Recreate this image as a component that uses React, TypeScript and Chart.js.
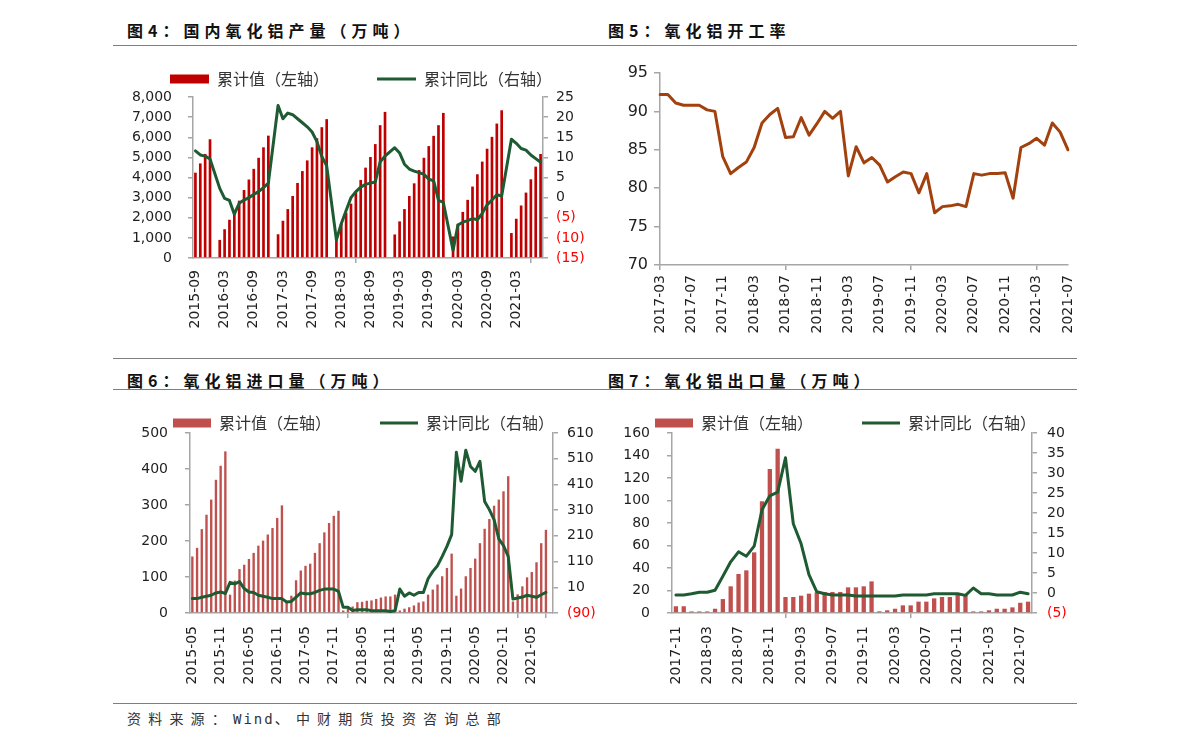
import React, { useEffect, useRef } from 'react';
import { Chart, registerables } from 'chart.js';

Chart.register(...registerables);

// ---------- helpers for month category labels ----------
const monthLabels = (startYear: number, startMonth: number, count: number): string[] => {
  const out: string[] = [];
  for (let i = 0; i < count; i++) {
    const m = startMonth - 1 + i;
    const y = startYear + Math.floor(m / 12);
    const mm = (m % 12) + 1;
    out.push(`${y}-${String(mm).padStart(2, '0')}`);
  }
  return out;
};

// ---------- 图4 国内氧化铝产量（万吨） ----------
const prodMonths = monthLabels(2015, 9, 72);
const prodCum: (number | null)[] = [
  4240, 4700, 5170, 5900,
  null, 900, 1430, 1900, 2350, 2850, 3380, 3900, 4430, 4980, 5500, 6080,
  null, 1180, 1850, 2430, 3080, 3730, 4320, 4850, 5500, 5950, 6500, 6900,
  null, 1100, 1700, 2250, 2700, 3300, 3880, 4490, 5020, 5660, 6600, 7260,
  null, 1170, 1820, 2430, 3080, 3710, 4370, 4980, 5560, 6070, 6600, 7210,
  null, 1070, 1700, 2290, 2890, 3550, 4160, 4790, 5430, 6020, 6680, 7340,
  null, 1240, 1950, 2610, 3250, 3910, 4540, 5170,
];
const prodYoY: (number | null)[] = [
  11.6, 10.6, 10.3, 9.6,
  null, 2.3, -0.2, -0.7, -4.1, -1.4, -0.6, 0.0, 0.8, 1.5, 2.5, 3.6,
  null, 22.9, 19.6, 21.0, 20.6, 19.6, 18.6, 17.6, 16.3, 13.9, 10.2, 7.9,
  null, -10.5, -6.5, -3.2, 0.0, 1.5, 2.6, 3.3, 3.6, 3.9, 8.9, 10.3,
  null, 12.4, 11.1, 8.3, 7.1, 6.6, 6.2, 5.8, 4.6, 4.2, -0.7, -1.2,
  null, -13.1, -6.8, -6.1, -5.7, -5.2, -5.5, -3.9, -1.8, -0.6, 0.7, 0.4,
  null, 14.5, 13.5, 12.2, 11.8, 10.6, 9.7, 8.8,
];

// ---------- 图5 氧化铝开工率 ----------
const rateMonths = monthLabels(2017, 3, 53);
const rateValues: number[] = [
  92.2, 92.2, 91.1, 90.8, 90.8, 90.8, 90.2, 90.0, 84.1, 81.9,
  82.7, 83.4, 85.3, 88.5, 89.6, 90.4, 86.6, 86.7, 89.2, 86.9,
  88.4, 90.0, 89.1, 90.0, 81.6, 85.4, 83.3, 84.0, 83.0, 80.8,
  81.5, 82.1, 81.9, 79.4, 81.9, 76.8, 77.6, 77.7, 77.9, 77.6,
  81.9, 81.7, 81.9, 81.9, 82.0, 78.7, 85.3, 85.8, 86.5, 85.6,
  88.5, 87.3, 85.0,
];

// ---------- 图6 氧化铝进口量（万吨） ----------
const importMonths = monthLabels(2015, 5, 77);
const importCum: (number | null)[] = [
  157, 181, 233, 273, 315, 370, 409, 449,
  51, 90, 122, 134, 150, 167, 187, 201, 218, 236, 264, 299,
  30, 48, 91, 118, 131, 137, 167, 194, 224, 250, 270, 284,
  7, 14, 18, 30, 31, 34, 35, 39, 43, 46, 46, 51,
  7, 12, 16, 21, 29, 32, 51, 65, 79, 102, 125, 165,
  48, 68, 102, 125, 151, 194, 234, 261, 298, 315, 338, 380,
  32, 52, 74, 99, 114, 141, 194, 231, null,
];
const importYoY: (number | null)[] = [
  -34, -34, -29, -25, -21, -12, -8, -14,
  29, 23, 32, 5, -8, -10, -21, -25, -29, -34, -34, -34,
  -47, -45, -28, -12, -15, -15, -10, -2, 3, 3, 3, -6,
  -68, -68, -80, -77, -77, -77, -81, -81, -81, -81, -84, -81,
  3, -25, -12, -21, -10, -10, 43, 72, 94, 130, 169, 215,
  535, 422, 543, 480, 461, 500, 344, 312, 273, 198, 172, 130,
  -36, -32, -28, -21, -25, -29, -19, -10, null,
];

// ---------- 图7 氧化铝出口量（万吨） ----------
const exportMonths = monthLabels(2017, 11, 46);
const exportCum: number[] = [
  6, 6, 1.4, 1.4, 1.4, 3.8, 12.4, 23.7, 34.7, 37.9,
  53.9, 99.3, 128, 146, 14.2, 14.2, 15.4, 17.2, 18.4, 18.7,
  18.7, 18.7, 22.8, 22.8, 23.7, 28.1, 1.5, 2.4, 3.8, 6.8,
  6.8, 10.1, 10.1, 13, 14.2, 14.2, 16.3, 16.3, 1.4, 1.4,
  2.4, 3.8, 3.8, 5, 9.1, 10.1,
];
const exportYoY: number[] = [
  -0.5, -0.5, -0.2, 0.2, 0.2, 0.7, 4.2, 7.8, 10.3, 9.2,
  11.7, 20.8, 24.3, 25.2, 33.8, 17.3, 12.3, 4.6, 0.3, -0.2,
  -0.5, -0.5, -0.5, -0.75, -0.75, -0.75, -0.75, -0.75, -0.75, -0.5,
  -0.5, -0.5, -0.5, -0.2, -0.2, -0.2, -0.2, -0.6, 1.25, -0.2,
  -0.2, -0.5, -0.5, -0.5, 0.2, -0.2,
];

// ---------- shared styling ----------
const AXIS = '#A6A6A6';
const TICK_TEXT = '#1f1f1f';
const NEG = '#FF0000';
const GREEN = '#1E5B32';
const DARK_RED = '#C00000';
const SOFT_RED = '#C0504D';
const BROWN = '#A3410E';
const NUM_FAMILY = "'DejaVu Sans', 'Noto Sans CJK SC', sans-serif";
const CJK_FAMILY = "'Noto Sans CJK SC', sans-serif";
const TICK_FONT = { family: NUM_FAMILY, size: 14 };
const LEGEND_FONT = { family: CJK_FAMILY, size: 16 };
const CLEAR = 'rgba(0,0,0,0)';

const commaFmt = (v: any) => Number(v).toLocaleString('en-US');
const parenFmt = (v: any) => (Number(v) < 0 ? `(${Math.abs(Number(v))})` : `${v}`);
const plainFmt = (v: any) => `${v}`;

function xAxis(every: number, height: number, offset: boolean, padding: number) {
  return {
    type: 'category',
    offset,
    grid: {
      display: true,
      drawOnChartArea: false,
      drawTicks: true,
      tickLength: 5,
      offset,
      lineWidth: 1.5,
      color: (c: any) => (c.index === undefined || c.index % every === 0 ? AXIS : CLEAR),
    },
    border: { display: true, color: AXIS, width: 1.5 },
    ticks: {
      autoSkip: false,
      minRotation: 90,
      maxRotation: 90,
      padding,
      color: TICK_TEXT,
      font: TICK_FONT,
      callback: function (this: any, v: any, i: number) {
        return i % every === 0 ? this.getLabelForValue(v) : null;
      },
    },
    afterFit: (s: any) => {
      s.height = height;
    },
  };
}

function yAxis(
  position: 'left' | 'right',
  min: number,
  max: number,
  step: number,
  width: number,
  padding: number,
  fmt: (v: any) => string,
  opts: { redNegative?: boolean; fontSize?: number; tickLength?: number } = {}
) {
  return {
    type: 'linear',
    position,
    min,
    max,
    grid: {
      display: true,
      drawOnChartArea: false,
      drawTicks: true,
      tickLength: opts.tickLength ?? 5,
      color: AXIS,
      lineWidth: 1.5,
    },
    border: { display: true, color: AXIS, width: 1.5 },
    ticks: {
      stepSize: step,
      padding,
      font: { family: NUM_FAMILY, size: opts.fontSize ?? 14 },
      color: opts.redNegative
        ? (c: any) => (c.tick && c.tick.value < 0 ? NEG : TICK_TEXT)
        : TICK_TEXT,
      callback: fmt,
    },
    afterFit: (s: any) => {
      s.width = width;
    },
  };
}

function legendOpts(padding: number, boxWidth: number, maxHeight?: number) {
  return {
    display: true,
    position: 'top',
    ...(maxHeight ? { maxHeight } : {}),
    labels: {
      usePointStyle: true,
      pointStyleWidth: boxWidth,
      boxHeight: 9,
      padding,
      font: LEGEND_FONT,
      color: '#333',
      sort: (a: any, b: any) => a.datasetIndex - b.datasetIndex,
    },
  };
}

function comboConfig(p: {
  labels: string[];
  bars: (number | null)[];
  line: (number | null)[];
  barColor: string;
  barPct: number;
  left: any;
  right: any;
  x: any;
  legend: any;
}) {
  return {
    type: 'bar',
    data: {
      labels: p.labels,
      datasets: [
        {
          type: 'bar',
          label: '累计值（左轴）',
          data: p.bars,
          backgroundColor: p.barColor,
          borderWidth: 0,
          barPercentage: p.barPct,
          categoryPercentage: 1,
          yAxisID: 'y',
          order: 1,
          pointStyle: 'rect',
        },
        {
          type: 'line',
          label: '累计同比（右轴）',
          data: p.line,
          borderColor: GREEN,
          backgroundColor: GREEN,
          borderWidth: 3,
          pointRadius: 0,
          spanGaps: true,
          tension: 0,
          borderJoinStyle: 'round',
          borderCapStyle: 'round',
          yAxisID: 'y1',
          order: 0,
          pointStyle: 'line',
        },
      ],
    },
    options: {
      responsive: false,
      animation: false,
      devicePixelRatio: 1,
      events: [],
      layout: { padding: 0 },
      plugins: { legend: p.legend, tooltip: { enabled: false } },
      scales: { x: p.x, y: p.left, y1: p.right },
    },
  };
}

const productionConfig = () =>
  comboConfig({
    labels: prodMonths,
    bars: prodCum,
    line: prodYoY,
    barColor: DARK_RED,
    barPct: 0.55,
    x: xAxis(6, 82, true, 7),
    left: yAxis('left', 0, 8000, 1000, 78, 16, commaFmt),
    right: yAxis('right', -15, 25, 5, 64, 8, parenFmt, { redNegative: true }),
    legend: legendOpts(48, 39),
  });

const importConfig = () =>
  comboConfig({
    labels: importMonths,
    bars: importCum,
    line: importYoY,
    barColor: SOFT_RED,
    barPct: 0.5,
    x: xAxis(6, 82, true, 8),
    left: yAxis('left', 0, 500, 100, 72, 17, plainFmt),
    right: yAxis('right', -90, 610, 100, 56, 9, parenFmt, { redNegative: true }),
    legend: legendOpts(49, 38, 67),
  });

const exportConfig = () =>
  comboConfig({
    labels: exportMonths,
    bars: exportCum,
    line: exportYoY,
    barColor: SOFT_RED,
    barPct: 0.55,
    x: xAxis(4, 82, true, 8),
    left: yAxis('left', 0, 160, 20, 72, 17, plainFmt),
    right: yAxis('right', -5, 40, 5, 59, 10, parenFmt, { redNegative: true }),
    legend: legendOpts(49, 38, 67),
  });

const rateConfig = () => ({
  type: 'line',
  data: {
    labels: rateMonths,
    datasets: [
      {
        label: '开工率',
        data: rateValues,
        borderColor: BROWN,
        backgroundColor: BROWN,
        borderWidth: 3,
        pointRadius: 0,
        tension: 0,
        borderJoinStyle: 'round',
        borderCapStyle: 'round',
      },
    ],
  },
  options: {
    responsive: false,
    animation: false,
    devicePixelRatio: 1,
    events: [],
    layout: { padding: { top: 23, right: 22, left: 0, bottom: 0 } },
    plugins: { legend: { display: false }, tooltip: { enabled: false } },
    scales: {
      x: xAxis(4, 80, false, 5),
      y: yAxis('left', 70, 95, 5, 60, 6, plainFmt, { fontSize: 16, tickLength: 6 }),
    },
  },
});

// ---------- components ----------
type BoxProps = { left: number; top: number; width: number; height: number; make: () => any };

function ChartBox({ left, top, width, height, make }: BoxProps) {
  const ref = useRef<HTMLCanvasElement>(null);
  useEffect(() => {
    const chart = new Chart(ref.current as HTMLCanvasElement, make());
    return () => chart.destroy();
  }, []);
  return (
    <canvas
      ref={ref}
      width={width}
      height={height}
      style={{ position: 'absolute', left, top, width, height }}
    />
  );
}

const titleStyle = (left: number, top: number): React.CSSProperties => ({
  position: 'absolute',
  left,
  top,
  fontFamily: CJK_FAMILY,
  fontWeight: 700,
  fontSize: 16,
  lineHeight: '20px',
  letterSpacing: '5px',
  color: '#111',
  whiteSpace: 'nowrap',
});

const rule = (top: number): React.CSSProperties => ({
  position: 'absolute',
  left: 113,
  top,
  width: 964,
  height: 0,
  borderTop: '1.5px solid #7f7f7f',
});

export default function App() {
  return (
    <div
      style={{
        position: 'absolute',
        left: 0,
        top: 0,
        width: 1191,
        height: 752,
        background: '#fff',
        overflow: 'hidden',
      }}
    >
      <div style={titleStyle(127, 20)}>图4：国内氧化铝产量（万吨）</div>
      <div style={titleStyle(608, 20)}>图5：氧化铝开工率</div>
      <div style={rule(45)} />

      <div style={rule(358)} />
      <div style={titleStyle(127, 370)}>图6：氧化铝进口量（万吨）</div>
      <div style={titleStyle(608, 370)}>图7：氧化铝出口量（万吨）</div>
      <div style={rule(389)} />

      <ChartBox left={115} top={23} width={492} height={317} make={productionConfig} />
      <ChartBox left={600} top={50} width={490} height={295} make={rateConfig} />
      <ChartBox left={118} top={366} width={491} height={329} make={importConfig} />
      <ChartBox left={600} top={366} width={491} height={329} make={exportConfig} />

      <div style={rule(703)} />
      <div
        style={{
          position: 'absolute',
          left: 127,
          top: 708,
          fontFamily: CJK_FAMILY,
          fontSize: 14,
          lineHeight: '20px',
          color: '#333',
          whiteSpace: 'nowrap',
        }}
      >
        <span style={{ letterSpacing: '7.2px' }}>资料来源：</span>
        <span style={{ letterSpacing: '2px', fontFamily: "'DejaVu Sans Mono', monospace" }}>Wind</span>
        <span style={{ letterSpacing: '7.2px' }}>、中财期货投资咨询总部</span>
      </div>
    </div>
  );
}
